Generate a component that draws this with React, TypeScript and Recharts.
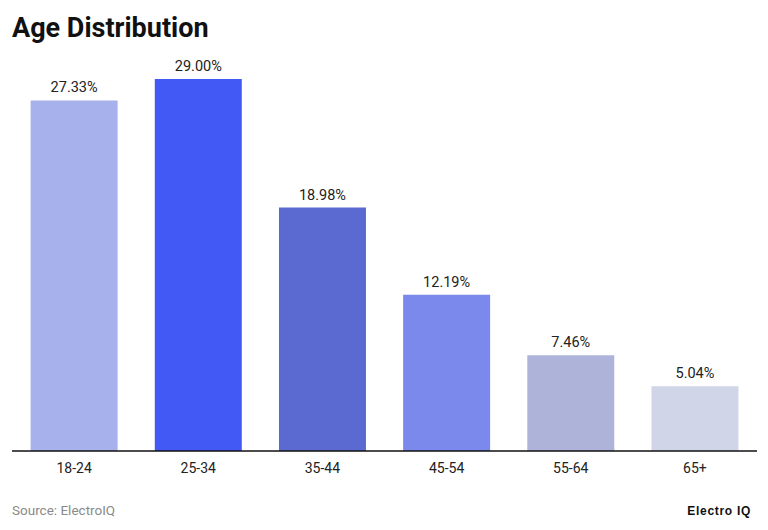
import React from 'react';
import { BarChart, Bar, XAxis, YAxis, Cell, LabelList } from 'recharts';

const categories = ['18-24', '25-34', '35-44', '45-54', '55-64', '65+'];
const shares = [27.33, 29.0, 18.98, 12.19, 7.46, 5.04];
const barColors = ['#a7b1eb', '#4259f5', '#5a6ad0', '#7a89eb', '#adb3d9', '#d1d5e8'];

const data = categories.map((name, i) => ({ name, value: shares[i] }));

const font = 'Roboto, "Noto Sans", sans-serif';

const App = () => {
  return (
    <div style={{ position: 'absolute', left: 0, top: 0, width: 768, height: 530, background: '#fff', fontFamily: font }}>
      <div style={{ position: 'absolute', left: 12, top: 12, fontSize: 27, fontWeight: 700, lineHeight: '32px', color: '#111' }}>
        Age Distribution
      </div>
      <BarChart width={768} height={530} data={data} margin={{ top: 79, right: 11, bottom: 49, left: 12 }} barCategoryGap="15%">
        <YAxis hide domain={[0, 29]} />
        <XAxis
          dataKey="name"
          height={30}
          tickLine={false}
          axisLine={{ stroke: '#111', strokeWidth: 1.5 }}
          tick={{ fill: '#222', fontSize: 14, fontFamily: font }}
          tickMargin={6}
        />
        <Bar dataKey="value" isAnimationActive={false}>
          {data.map((d, i) => (
            <Cell key={d.name} fill={barColors[i]} />
          ))}
          <LabelList
            dataKey="value"
            position="top"
            offset={8}
            formatter={(v: any) => `${Number(v).toFixed(2)}%`}
            style={{ fill: '#222', fontSize: 14.5, fontFamily: font }}
          />
        </Bar>
      </BarChart>
      <div style={{ position: 'absolute', left: 12, top: 502, fontSize: 13.5, color: '#8a8a8a' }}>Source: ElectroIQ</div>
      <div style={{ position: 'absolute', right: 17, top: 504, fontSize: 12, fontWeight: 700, letterSpacing: 0.7, color: '#111', fontFamily: '"Liberation Sans", Arial, sans-serif' }}>Electro IQ</div>
    </div>
  );
};

export default App;
